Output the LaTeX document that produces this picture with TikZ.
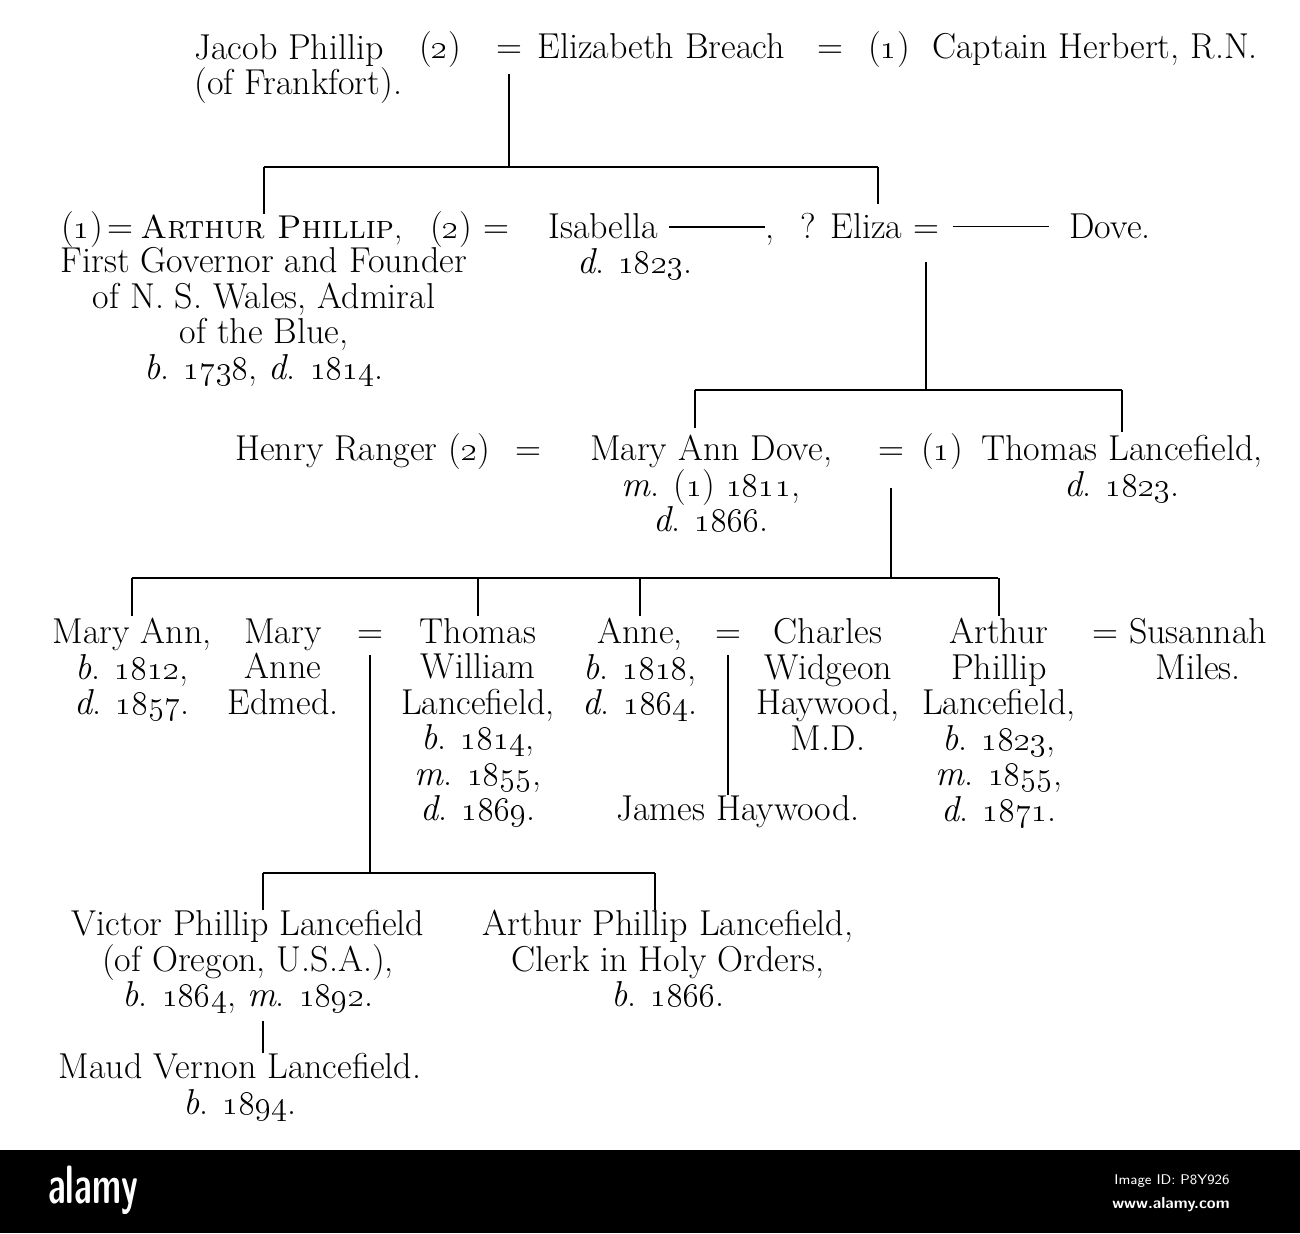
\documentclass[tikz,border=0pt]{standalone}
\usepackage{graphicx}
\usepackage{tikz}
\usetikzlibrary{positioning, calc}

\newcommand{\fs}{\fontsize{18}{17.75}\selectfont}
\newcommand{\yr}[1]{\oldstylenums{#1}}
\newcommand{\blank}{\rule[0.3em]{48pt}{0.6pt}}

\begin{document}
\begin{tikzpicture}[x=0.5pt, y=-0.5pt,
  txt/.style={inner sep=0pt, font=\fs},
  tree/.style={line width=0.9pt}]
  \useasboundingbox (0,0) rectangle (1300,1233);

  % prima generazione
  \node[txt, anchor=north west, align=left] (jacob) at (194,34) {Jacob Phillip\\(of Frankfort).};
  \node[txt, anchor=base] (jp2) at (440,58) {(\yr{2})};
  \node[txt, anchor=base] (eqJE) at (509,58) {=};
  \node[txt, anchor=base west] (eliz) at (537,58) {Elizabeth Breach};
  \node[txt, anchor=base] (eqEC) at (830,58) {=};
  \node[txt, anchor=base] (ch1) at (889,58) {(\yr{1})};
  \node[txt, anchor=base west] (capt) at (932,58) {Captain Herbert, R.N.};

  % figli di Elizabeth
  \node[txt, anchor=base] (ap1) at (82,238) {(\yr{1})};
  \node[txt, anchor=base] (eqAP) at (120,238) {=};
  \node[txt, anchor=base west, font=\fontsize{16.5}{17.75}\selectfont] (arthur) at (140,238) {\textsc{Arthur Phillip},};
  \node[txt, anchor=north, align=center] (apdesc) at (264,247)
    {First Governor and Founder\\of N. S. Wales, Admiral\\of the Blue,\\\textit{b}. \yr{1738}, \textit{d}. \yr{1814}.};
  \node[txt, anchor=base] (ap2) at (451,238) {(\yr{2})};
  \node[txt, anchor=base] (eqAI) at (496,238) {=};
  \node[txt, anchor=north west, align=left] (isab) at (548,213) {Isabella \blank,\\\hspace*{0.8em}\textit{d}. \yr{1823}.};
  \node[txt, anchor=base west] (eliza) at (800,238) {? Eliza};
  \node[txt, anchor=base] (eqED) at (926,238) {=};
  \node[txt, anchor=base west] (dove) at (953,238) {\blank\hspace{10pt}Dove.};

  % Mary Ann Dove
  \node[txt, anchor=base west] (henry) at (235,460) {Henry Ranger (\yr{2})};
  \node[txt, anchor=base] (eqHM) at (528,460) {=};
  \node[txt, anchor=north, align=center] (mad) at (711,435) {Mary Ann Dove,\\\textit{m}. (\yr{1}) \yr{1811},\\\textit{d}. \yr{1866}.};
  \node[txt, anchor=base] (eqMT) at (891,460) {=};
  \node[txt, anchor=base] (tl1) at (942,460) {(\yr{1})};
  \node[txt, anchor=north, align=center] (tlan) at (1122,435) {Thomas Lancefield,\\\textit{d}. \yr{1823}.};

  % figli di Mary Ann Dove
  \node[txt, anchor=north, align=center] (mann) at (132,618) {Mary Ann,\\\textit{b}. \yr{1812},\\\textit{d}. \yr{1857}.};
  \node[txt, anchor=north, align=center] (mae) at (283,618) {Mary\\Anne\\Edmed.};
  \node[txt, anchor=base] (eqMW) at (370,643) {=};
  \node[txt, anchor=north, align=center] (twl) at (478,618) {Thomas\\William\\Lancefield,\\\textit{b}. \yr{1814},\\\textit{m}. \yr{1855},\\\textit{d}. \yr{1869}.};
  \node[txt, anchor=north, align=center] (anne) at (640,618) {Anne,\\\textit{b}. \yr{1818},\\\textit{d}. \yr{1864}.};
  \node[txt, anchor=base] (eqAC) at (728,643) {=};
  \node[txt, anchor=north, align=center] (cwh) at (828,618) {Charles\\Widgeon\\Haywood,\\M.D.};
  \node[txt, anchor=north, align=center] (apl) at (999,618) {Arthur\\Phillip\\Lancefield,\\\textit{b}. \yr{1823},\\\textit{m}. \yr{1855},\\\textit{d}. \yr{1871}.};
  \node[txt, anchor=base] (eqAS) at (1105,643) {=};
  \node[txt, anchor=north, align=center] (sus) at (1198,618) {Susannah\\Miles.};
  \node[txt, anchor=base] (james) at (738,820) {James Haywood.};

  % nipoti
  \node[txt, anchor=north, align=center] (vpl) at (248,910) {Victor Phillip Lancefield\\(of Oregon, U.S.A.),\\\textit{b}. \yr{1864}, \textit{m}. \yr{1892}.};
  \node[txt, anchor=north, align=center] (apl2) at (668,910) {Arthur Phillip Lancefield,\\Clerk in Holy Orders,\\\textit{b}. \yr{1866}.};
  \node[txt, anchor=north, align=center] (maud) at (240,1053) {Maud Vernon Lancefield.\\\textit{b}. \yr{1894}.};

  % linee: Jacob = Elizabeth
  \coordinate (k1w) at (264,167);
  \coordinate (k1e) at (878,167);
  \draw[tree] ([yshift=-8pt]eqJE.base) -- (eqJE.base |- k1w);
  \draw[tree] (k1w) -- (k1e);
  \draw[tree] (k1w) -- (k1w |- arthur.north);
  \draw[tree, shorten >=4pt] (k1e) -- (k1e |- eliza.north);

  % linee: Eliza = Dove
  \coordinate (k2w) at (695,390);
  \coordinate (k2e) at (1122,390);
  \draw[tree] ([yshift=-12pt]eqED.base) -- (eqED.base |- k2w);
  \draw[tree] (k2w) -- (k2e);
  \draw[tree, shorten >=3.5pt] (k2w) -- (k2w |- mad.north);
  \draw[tree, shorten >=1.5pt] (k2e) -- (k2e |- tlan.north);

  % linee: Mary Ann Dove = Thomas Lancefield
  \coordinate (k3w) at (132,578);
  \coordinate (k3e) at (998,578);
  \draw[tree] ([yshift=-14pt]eqMT.base) -- (eqMT.base |- k3w);
  \draw[tree] (k3w) -- (k3e);
  \foreach \c in {mann, twl, anne, apl}
    \draw[tree, shorten >=1pt] (\c.north |- k3w) -- (\c.north);

  % linee: Mary Anne Edmed = Thomas William
  \coordinate (k4w) at (263,873);
  \coordinate (k4e) at (655,873);
  \draw[tree] ([yshift=-6pt]eqMW.base) -- (eqMW.base |- k4w);
  \draw[tree] (k4w) -- (k4e);
  \draw[tree] (k4w) -- (k4w |- vpl.north);
  \draw[tree] (k4e) -- (k4e |- apl2.north);
  \draw[tree, shorten <=3.5pt] (vpl.south -| k4w) -- (k4w |- maud.north);

  % linee: Anne = Charles
  \draw[tree] ([yshift=-6pt]eqAC.base) -- (eqAC.base |- james.north);

  % fascia in basso
  \fill[black] (0,1150) rectangle (1300,1233);
  \node[inner sep=0pt, anchor=base west, white, font=\sffamily\bfseries\fontsize{27}{28}\selectfont] (logo) at (48,1203) {\scalebox{0.62}[1]{alamy}};
  \node[inner sep=0pt, anchor=base east, white, font=\sffamily\fontsize{7}{8}\selectfont] (imgid) at (1230,1184) {Image ID: P8Y926};
  \node[inner sep=0pt, anchor=base east, white, font=\sffamily\bfseries\fontsize{8}{9}\selectfont] (www) at (1230,1208) {www.alamy.com};
\end{tikzpicture}
\end{document}
